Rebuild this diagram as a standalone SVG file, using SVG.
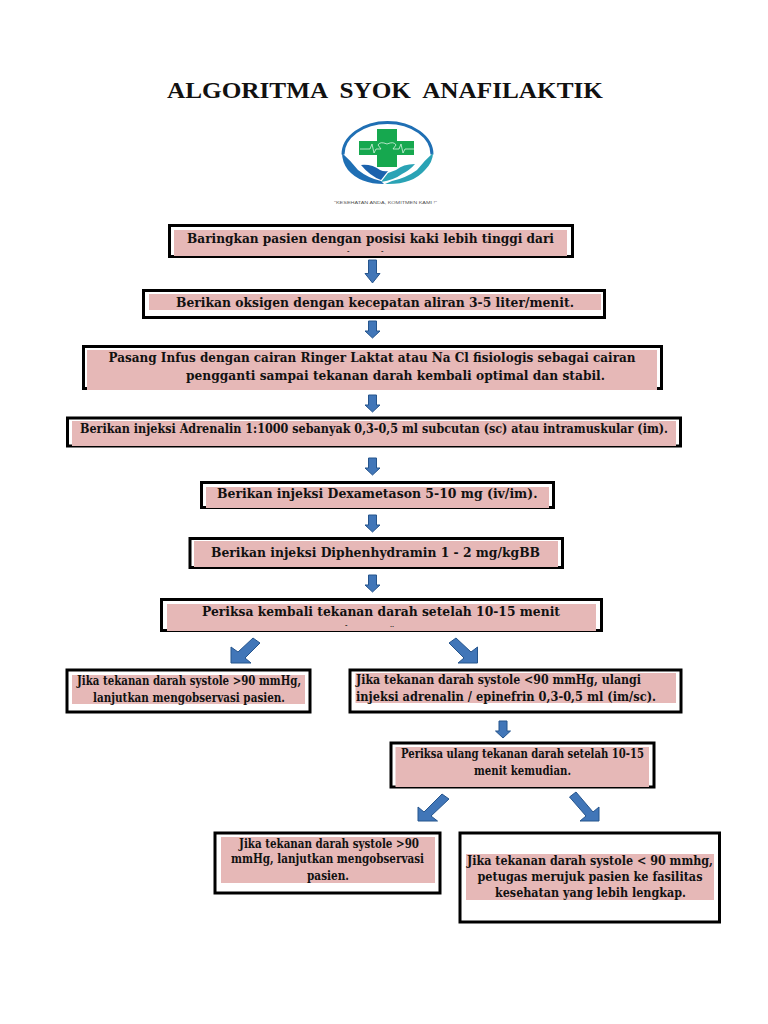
<svg xmlns="http://www.w3.org/2000/svg" xmlns:xlink="http://www.w3.org/1999/xlink" width="768" height="1024" viewBox="0 0 768 1024">
<style>
.box{fill:#fff;stroke:#000;stroke-width:3}
.pink{fill:#e6b8b7}
.t{font-family:"DejaVu Serif","Liberation Serif",serif;font-weight:700;font-size:12px;fill:#111}
.d{font-family:"DejaVu Serif","Liberation Serif",serif;font-weight:700;font-size:6px;fill:#111}
.ar{fill:#4176b8;stroke:#25548c;stroke-width:1;vector-effect:non-scaling-stroke}
</style>
<defs>
<path id="down" class="ar" d="M-4 0H4V10H7.5L0 17L-7.5 10H-4Z"/>
</defs>
<rect width="768" height="1024" fill="#fff"/>
<text x="167" y="98" font-family="Liberation Serif,serif" font-weight="700" font-size="23" fill="#111" textLength="436" lengthAdjust="spacingAndGlyphs" xml:space="preserve">ALGORITMA  SYOK  ANAFILAKTIK</text>
<g id="logo">
<path d="M343 154.500A44.500 32 0 0 1 432 154.500" fill="none" stroke="#1f6fb4" stroke-width="3"/>
<path fill="#16a84f" d="M377 129H397V141H414V155H397V167H377V155H359V141H377Z"/>
<path fill="none" stroke="#d8f3e2" stroke-width="0.8" d="M360 149H370L372 144L374 153L376 149H381L378 145Q380 141 387 144Q394 141 396 145L393 149H399L401 144L403 153L405 149H414"/>
<path fill="#1f6fb4" d="M342 153Q350 160 358 170Q368 178 381 181L384 184Q360 184 348 170Q342 162 342 153Z"/>
<path fill="#1b62ad" d="M361 165Q372 164 380 170Q384 172 388 171L381 180Q370 176 361 165Z"/>
<path fill="#2aa3b5" d="M415 164Q403 164 396 170L388 173L381 182Q394 180 402 174Q410 170 415 164Z"/>
<path fill="#2aa3b5" d="M433 153Q425 160 417 170Q406 178 392 181L385 184Q412 185 425 170Q433 162 433 153Z"/>
<text x="385.500" y="204" text-anchor="middle" font-family="Liberation Sans,sans-serif" font-size="4.4" fill="#555" textLength="103" lengthAdjust="spacingAndGlyphs">"KESEHATAN ANDA, KOMITMEN KAMI !"</text>
</g>
<g id="connectors">
<use xlink:href="#down" href="#down" transform="translate(372.500 260) scale(1 1.35)"/>
<use xlink:href="#down" href="#down" transform="translate(372.500 321)"/>
<use xlink:href="#down" href="#down" transform="translate(372.500 395)"/>
<use xlink:href="#down" href="#down" transform="translate(372.500 458)"/>
<use xlink:href="#down" href="#down" transform="translate(372.500 515)"/>
<use xlink:href="#down" href="#down" transform="translate(372.500 575)"/>
<use xlink:href="#down" href="#down" transform="translate(503 721)"/>
<path class="ar" d="M253 638L260 643L245 658L251 663H231V647L238 652Z"/>
<path class="ar" d="M456 638L449 643L464 658L458 663H477.500V647L471 652Z"/>
<path class="ar" d="M442 794L449 799L431 816L437.500 821H418V807L424 812Z"/>
<path class="ar" d="M576 792L569.500 797L586 816L580 821H599V807L593 812Z"/>
</g>
<g id="n1"><rect class="box" x="169.500" y="225.500" width="403" height="31"/><rect class="pink" x="174" y="230" width="393" height="26"/>
<text class="t" x="187" y="243" textLength="367" lengthAdjust="spacingAndGlyphs">Baringkan pasien dengan posisi kaki lebih tinggi dari</text>
<text class="d" x="347" y="253">-</text><text class="d" x="381" y="253">-</text></g>
<g id="n2"><rect class="box" x="143.500" y="290.500" width="461" height="27"/><rect class="pink" x="149" y="294" width="452" height="16"/>
<text class="t" x="176" y="307" textLength="398" lengthAdjust="spacingAndGlyphs">Berikan oksigen dengan kecepatan aliran 3-5 liter/menit.</text></g>
<g id="n3"><rect class="box" x="83.500" y="346.500" width="578" height="42"/><rect class="pink" x="87" y="350" width="570" height="40"/>
<text class="t" x="108.500" y="362" textLength="527" lengthAdjust="spacingAndGlyphs">Pasang Infus dengan cairan Ringer Laktat atau Na Cl fisiologis sebagai cairan</text>
<text class="t" x="186" y="380" textLength="419" lengthAdjust="spacingAndGlyphs">pengganti sampai tekanan darah kembali optimal dan stabil.</text></g>
<g id="n4"><rect class="box" x="67.500" y="418" width="613" height="28"/><rect class="pink" x="72" y="421" width="604" height="25"/>
<text class="t" x="80" y="433" textLength="588" lengthAdjust="spacingAndGlyphs">Berikan injeksi Adrenalin 1:1000 sebanyak 0,3-0,5 ml subcutan (sc) atau intramuskular (im).</text></g>
<g id="n5"><rect class="box" x="201.500" y="482.500" width="352" height="25"/><rect class="pink" x="206" y="487" width="343" height="21"/>
<text class="t" x="217" y="498" textLength="320.500" lengthAdjust="spacingAndGlyphs">Berikan injeksi Dexametason 5-10 mg (iv/im).</text></g>
<g id="n6"><rect class="box" x="190" y="538.500" width="372.500" height="29"/><rect class="pink" x="194" y="541" width="364" height="26"/>
<text class="t" x="211" y="557" textLength="329" lengthAdjust="spacingAndGlyphs">Berikan injeksi Diphenhydramin 1 - 2 mg/kgBB</text></g>
<g id="n7"><rect class="box" x="161.500" y="599.500" width="440" height="31"/><rect class="pink" x="167" y="604" width="429" height="27"/>
<text class="t" x="202" y="616" textLength="358" lengthAdjust="spacingAndGlyphs">Periksa kembali tekanan darah setelah 10-15 menit</text>
<text class="d" x="345" y="627">-</text><text class="d" x="390" y="627">..</text></g>
<g id="n8"><rect class="box" x="67" y="670" width="243" height="42"/><rect class="pink" x="72" y="675" width="233" height="29"/>
<text class="t" x="77" y="685" textLength="224" lengthAdjust="spacingAndGlyphs">Jika tekanan darah systole &gt;90 mmHg,</text>
<text class="t" x="93" y="702" textLength="192" lengthAdjust="spacingAndGlyphs">lanjutkan mengobservasi pasien.</text></g>
<g id="n9"><rect class="box" x="350" y="670" width="331" height="42"/><rect class="pink" x="355.500" y="673" width="320.500" height="30"/>
<text class="t" x="356" y="684" textLength="285" lengthAdjust="spacingAndGlyphs">Jika tekanan darah systole &lt;90 mmHg, ulangi</text>
<text class="t" x="356" y="701" textLength="300" lengthAdjust="spacingAndGlyphs">injeksi adrenalin / epinefrin 0,3-0,5 ml (im/sc).</text></g>
<g id="n10"><rect class="box" x="391" y="743" width="263" height="44"/><rect class="pink" x="395.500" y="747" width="253.500" height="40"/>
<text class="t" x="401" y="758" textLength="243" lengthAdjust="spacingAndGlyphs">Periksa ulang tekanan darah setelah 10-15</text>
<text class="t" x="474" y="775" textLength="97" lengthAdjust="spacingAndGlyphs">menit kemudian.</text></g>
<g id="n11"><rect class="box" x="215" y="833" width="225" height="60"/><rect class="pink" x="221" y="837" width="214" height="46"/>
<text class="t" x="239" y="848" textLength="180" lengthAdjust="spacingAndGlyphs">Jika tekanan darah systole &gt;90</text>
<text class="t" x="231" y="863" textLength="193" lengthAdjust="spacingAndGlyphs">mmHg, lanjutkan mengobservasi</text>
<text class="t" x="307" y="880" textLength="42" lengthAdjust="spacingAndGlyphs">pasien.</text></g>
<g id="n12"><rect class="box" x="460" y="833" width="259.500" height="89"/><rect class="pink" x="466" y="854" width="248" height="46"/>
<text class="t" x="467" y="865" textLength="246" lengthAdjust="spacingAndGlyphs">Jika tekanan darah systole &lt; 90 mmhg,</text>
<text class="t" x="477.500" y="881" textLength="225" lengthAdjust="spacingAndGlyphs">petugas merujuk pasien ke fasilitas</text>
<text class="t" x="495" y="897" textLength="191" lengthAdjust="spacingAndGlyphs">kesehatan yang lebih lengkap.</text></g>
</svg>
